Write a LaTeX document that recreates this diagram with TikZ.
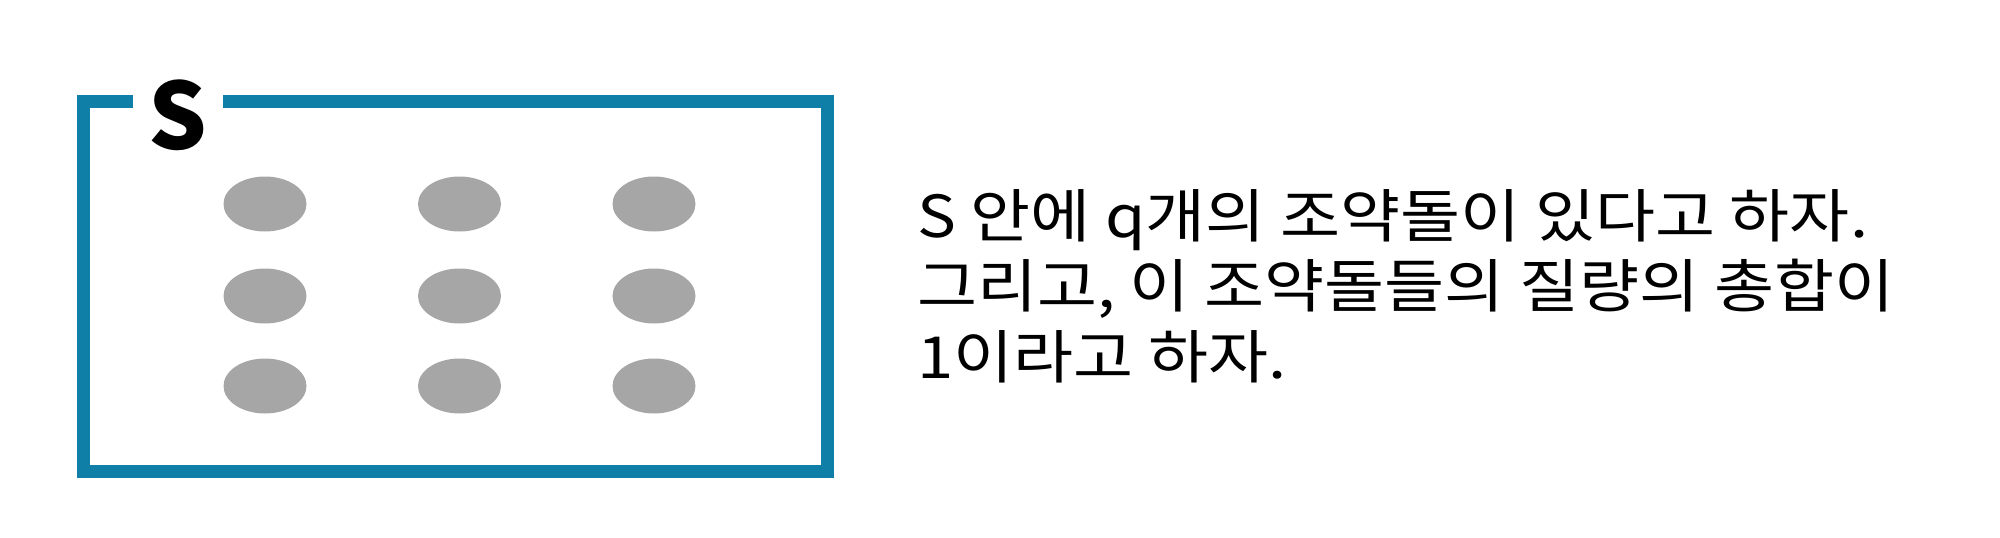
\documentclass[tikz,border=0pt]{standalone}
\usepackage{fontspec}
\newfontfamily\cjk{Noto Sans CJK KR}
\newfontfamily\cjkwide[FakeStretch=1.125]{Noto Sans CJK KR}
\usetikzlibrary{shapes.geometric}
\definecolor{frameblue}{RGB}{16,127,167}
\definecolor{pebble}{RGB}{166,166,166}
\tikzset{
  frameline/.style={draw=frameblue, line width=13pt, line cap=butt, line join=miter},
  pebblenode/.style={ellipse, fill=pebble, draw=none, minimum width=83pt, minimum height=55pt, inner sep=0pt},
  bodytext/.style={anchor=base west, inner sep=0pt, font=\cjkwide\fontsize{58}{70}\selectfont},
  labeltext/.style={anchor=base, inner sep=0pt, font=\cjk\bfseries\fontsize{92}{100}\selectfont}
}
\begin{document}
\begin{tikzpicture}[x=1pt,y=-1pt]
\useasboundingbox (0,0) rectangle (2000,538);
% frame with gap for label
\coordinate (g1) at (133,101.5);
\coordinate (c1) at (83.5,101.5);
\coordinate (c2) at (83.5,471.5);
\coordinate (c3) at (827.5,471.5);
\coordinate (c4) at (827.5,101.5);
\coordinate (g2) at (223,101.5);
\draw[frameline] (g1) -- (c1) -- (c2) -- (c3) -- (c4) -- (g2);
\node[labeltext] (slabel) at (178,149) {S};
% pebbles
\foreach \r/\y in {1/204,2/296,3/386}{
  \foreach \c/\x in {1/265,2/459.5,3/654}{
    \node[pebblenode] (p\r\c) at (\x,\y) {};
  }
}
% text
\node[bodytext] (l1) at (917,237) {S 안에 q개의 조약돌이 있다고 하자.};
\node[bodytext] (l2) at (917,307.5) {그리고, 이 조약돌들의 질량의 총합이};
\node[bodytext] (l3) at (917,378) {1이라고 하자.};
\end{tikzpicture}
\end{document}
